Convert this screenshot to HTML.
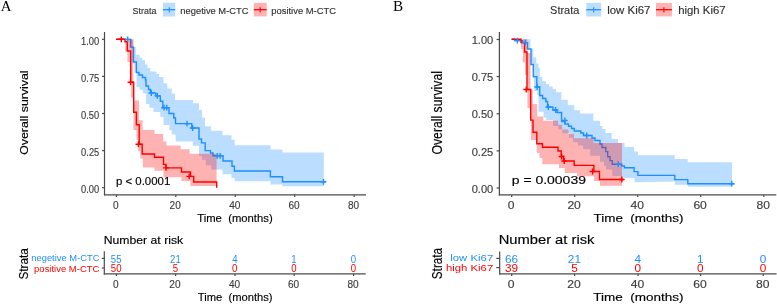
<!DOCTYPE html><html><head><meta charset="utf-8"><style>html,body{margin:0;padding:0;background:#fff;overflow:hidden}svg{display:block;filter:blur(0.35px)}</style></head><body>
<svg width="777" height="305" viewBox="0 0 777 305">
<rect width="777" height="305" fill="#fff"/>
<text transform="translate(0.85,10.70) scale(1.0134,1)" font-family='"Liberation Serif", serif' font-size="14.70" fill="#000" stroke="#000" stroke-width="0" style="white-space:pre">A</text>
<text transform="translate(132.60,13.50) scale(0.9461,1)" font-family='"Liberation Sans", sans-serif' font-size="9.46" fill="#333" stroke="#333" stroke-width="0.15" style="white-space:pre">Strata</text>
<rect x="163" y="2.8" width="12.2" height="13.7" fill="#BBDEFF"/>
<line x1="163" y1="9.7" x2="175.2" y2="9.7" stroke="#1E90FF" stroke-width="1.3"/>
<line x1="169.3" y1="7.2" x2="169.3" y2="12.6" stroke="#1E90FF" stroke-width="1.1"/>
<text transform="translate(180.37,13.50) scale(0.9841,1)" font-family='"Liberation Sans", sans-serif' font-size="9.52" fill="#333" stroke="#333" stroke-width="0.15" style="white-space:pre">negetive M-CTC</text>
<rect x="253.8" y="2.9" width="12.9" height="13.5" fill="#FFB3B3"/>
<line x1="253.8" y1="9.7" x2="266.7" y2="9.7" stroke="#FF0000" stroke-width="1.3"/>
<line x1="260.2" y1="7.2" x2="260.2" y2="12.6" stroke="#FF0000" stroke-width="1.1"/>
<text transform="translate(271.19,13.50) scale(0.9907,1)" font-family='"Liberation Sans", sans-serif' font-size="9.52" fill="#333" stroke="#333" stroke-width="0.15" style="white-space:pre">positive M-CTC</text>
<polyline points="116.4,39.4 130.7,39.4 130.7,47.1 133.5,47.1 133.5,62 136.4,62 136.4,72.5 139,72.5 139,75 142.5,75 142.5,77.5 145.5,77.5 145.5,80 146,80 146,86 148.5,86 148.5,89.5 150.5,89.5 150.5,93 155.8,93 155.8,95.9 160.3,95.9 160.3,101.3 162.8,101.3 162.8,107.7 169,107.7 169,113.5 173.8,113.5 173.8,118 175.5,118 175.5,123.6 191.8,123.6 191.8,128 199,128 199,139 201.5,139 201.5,142.9 205.2,142.9 205.2,150.6 210.5,150.6 210.5,153 213,153 213,155.8 223,155.8 223,161 232,161 232,166.2 234.4,166.2 234.4,171 270.4,171 270.4,176.7 282.5,176.7 282.5,181.8 326,181.8" fill="none" stroke="#1E90FF" stroke-width="1.4" stroke-linejoin="miter" stroke-linecap="butt"/>
<polyline points="116,39.3 125,39.3 125,41.8 127.3,41.8 127.3,51 130.7,51 130.7,82.3 133.7,82.3 133.7,112.3 136.4,112.3 136.4,124.8 139.2,124.8 139.2,144.2 142.2,144.2 142.2,154 154.5,154 154.5,157.2 163.5,157.2 163.5,164.4 166,164.4 166,167.9 181.5,167.9 181.5,172 190.5,172 190.5,176.4 193.7,176.4 193.7,182 216.7,182 216.7,187.7" fill="none" stroke="#FF0000" stroke-width="1.4" stroke-linejoin="miter" stroke-linecap="butt"/>
<polygon points="116.4,39.4 133.5,39.4 133.5,47.1 135.8,47.1 135.8,54.8 139.5,54.8 139.5,57.8 142.3,57.8 142.3,60.3 145,60.3 145,64.6 147.5,64.6 147.5,68 150.2,68 150.2,71.5 156.5,71.5 156.5,74 159,74 159,76.9 163.5,76.9 163.5,83.3 167.3,83.3 167.3,88.4 171.8,88.4 171.8,93.6 175,93.6 175,100 193,100 193,103.2 199,103.2 199,110 202,110 202,117.8 205,117.8 205,126.2 210.9,126.2 210.9,130.7 222.5,130.7 222.5,135.2 231.5,135.2 231.5,139.7 234.7,139.7 234.7,145.2 270.5,145.2 270.5,149.5 282.4,149.5 282.4,152.5 323.8,152.5 323.8,186.2 323.8,186.2 282.4,186.2 282.4,184.5 270.5,184.5 270.5,181.2 234.7,181.2 234.7,178 231.5,178 231.5,174.2 222.5,174.2 222.5,169.4 211.3,169.4 211.3,165.3 205.8,165.3 205.8,159.8 202.1,159.8 202.1,156.1 199,156.1 199,145.8 192.8,145.8 192.8,141.5 175.7,141.5 175.7,134.5 171.8,134.5 171.8,130 169.3,130 169.3,125 163.5,125 163.5,117 160.3,117 160.3,112 153.5,112 153.5,107.7 149.3,107.7 149.3,103.9 146.1,103.9 146.1,93.6 142.9,93.6 142.9,89.7 139.7,89.7 139.7,87.2 136.5,87.2 136.5,72.5 134.5,72.5 134.5,62 131.5,62 131.5,47.5 129.5,47.5 129.5,39.4 116.4,39.4" fill="#1E90FF" fill-opacity="0.3" stroke="none"/>
<polygon points="116,39.3 133.3,39.3 133.3,100.5 139,100.5 139,120.2 142.6,120.2 142.6,130 154.5,130 154.5,133.9 163.2,133.9 163.2,141.6 166.4,141.6 166.4,145.6 180.6,145.6 180.6,149.3 189.6,149.3 189.6,153.7 216.6,153.7 216.6,186 216.6,186 190.5,186 190.5,181.1 181.5,181.1 181.5,177.2 163.5,177.2 163.5,170.8 154.5,170.8 154.5,167.5 142.9,167.5 142.9,158.5 140.3,158.5 140.3,151 138,151 138,140 136.5,140 136.5,130 133.5,130 133.5,97.8 131.1,97.8 131.1,80 129.8,80 129.8,62 127.4,62 127.4,51.3 125.2,51.3 125.2,39.3 116,39.3" fill="#FF0000" fill-opacity="0.3" stroke="none"/>
<path d="M124.8,39.4h5.8M127.7,36.5v5.8M148.4,93.0h5.8M151.3,90.1v5.8M154.4,95.9h5.8M157.3,93.0v5.8M161.2,107.7h5.8M164.1,104.8v5.8M163.8,107.7h5.8M166.7,104.8v5.8M184.1,123.6h5.8M187.0,120.7v5.8M189.7,128.0h5.8M192.6,125.1v5.8M214.3,155.8h5.8M217.2,152.9v5.8M217.2,155.8h5.8M220.1,152.9v5.8M320.6,181.8h5.8M323.5,178.9v5.8" stroke="#1E90FF" stroke-width="1.4" fill="none"/>
<path d="M118.4,39.3h5.8M121.3,36.4v5.8M127.6,82.3h5.8M130.5,79.4v5.8M135.5,144.2h5.8M138.4,141.3v5.8M163.1,167.9h5.8M166.0,165.0v5.8M186.3,176.4h5.8M189.2,173.5v5.8" stroke="#FF0000" stroke-width="1.4" fill="none"/>
<line x1="104.5" y1="32" x2="104.5" y2="195.3" stroke="#4a4a4a" stroke-width="1.2"/>
<line x1="103.95" y1="194.8" x2="366" y2="194.8" stroke="#4a4a4a" stroke-width="1.2"/>
<line x1="102" y1="39.3" x2="104.5" y2="39.3" stroke="#4a4a4a" stroke-width="1.2"/>
<line x1="102" y1="76.4" x2="104.5" y2="76.4" stroke="#4a4a4a" stroke-width="1.2"/>
<line x1="102" y1="113.5" x2="104.5" y2="113.5" stroke="#4a4a4a" stroke-width="1.2"/>
<line x1="102" y1="150.6" x2="104.5" y2="150.6" stroke="#4a4a4a" stroke-width="1.2"/>
<line x1="102" y1="187.7" x2="104.5" y2="187.7" stroke="#4a4a4a" stroke-width="1.2"/>
<line x1="116.4" y1="194.8" x2="116.4" y2="197.0" stroke="#4a4a4a" stroke-width="1.2"/>
<line x1="175.8" y1="194.8" x2="175.8" y2="197.0" stroke="#4a4a4a" stroke-width="1.2"/>
<line x1="235.3" y1="194.8" x2="235.3" y2="197.0" stroke="#4a4a4a" stroke-width="1.2"/>
<line x1="294.7" y1="194.8" x2="294.7" y2="197.0" stroke="#4a4a4a" stroke-width="1.2"/>
<line x1="354.1" y1="194.8" x2="354.1" y2="197.0" stroke="#4a4a4a" stroke-width="1.2"/>
<text transform="translate(81.10,44.50) scale(0.8564,1)" font-family='"Liberation Sans", sans-serif' font-size="10.90" fill="#3C3C3C" stroke="#3C3C3C" stroke-width="0.15" style="white-space:pre">1.00</text>
<text transform="translate(81.12,81.60) scale(0.8564,1)" font-family='"Liberation Sans", sans-serif' font-size="10.90" fill="#3C3C3C" stroke="#3C3C3C" stroke-width="0.15" style="white-space:pre">0.75</text>
<text transform="translate(81.10,118.70) scale(0.8564,1)" font-family='"Liberation Sans", sans-serif' font-size="10.90" fill="#3C3C3C" stroke="#3C3C3C" stroke-width="0.15" style="white-space:pre">0.50</text>
<text transform="translate(81.12,155.80) scale(0.8564,1)" font-family='"Liberation Sans", sans-serif' font-size="10.90" fill="#3C3C3C" stroke="#3C3C3C" stroke-width="0.15" style="white-space:pre">0.25</text>
<text transform="translate(81.10,192.90) scale(0.8564,1)" font-family='"Liberation Sans", sans-serif' font-size="10.90" fill="#3C3C3C" stroke="#3C3C3C" stroke-width="0.15" style="white-space:pre">0.00</text>
<text transform="translate(112.99,208.90) scale(0.9125,1)" font-family='"Liberation Sans", sans-serif' font-size="11.04" fill="#3C3C3C" stroke="#3C3C3C" stroke-width="0.15" style="white-space:pre">0</text>
<text transform="translate(169.55,208.90) scale(0.9125,1)" font-family='"Liberation Sans", sans-serif' font-size="11.04" fill="#3C3C3C" stroke="#3C3C3C" stroke-width="0.15" style="white-space:pre">20</text>
<text transform="translate(229.18,208.90) scale(0.9125,1)" font-family='"Liberation Sans", sans-serif' font-size="11.04" fill="#3C3C3C" stroke="#3C3C3C" stroke-width="0.15" style="white-space:pre">40</text>
<text transform="translate(288.45,208.90) scale(0.9125,1)" font-family='"Liberation Sans", sans-serif' font-size="11.04" fill="#3C3C3C" stroke="#3C3C3C" stroke-width="0.15" style="white-space:pre">60</text>
<text transform="translate(347.88,208.90) scale(0.9125,1)" font-family='"Liberation Sans", sans-serif' font-size="11.04" fill="#3C3C3C" stroke="#3C3C3C" stroke-width="0.15" style="white-space:pre">80</text>
<text transform="translate(28.00,154.79) rotate(-90) scale(1.1055,1)" font-family='"Liberation Sans", sans-serif' font-size="11.17" fill="#000" stroke="#000" stroke-width="0.15" style="white-space:pre">Overall survival</text>
<text transform="translate(197.25,222.30) scale(0.9624,1)" font-family='"Liberation Sans", sans-serif' font-size="11.72" fill="#000" stroke="#000" stroke-width="0.15" style="white-space:pre">Time  (months)</text>
<text transform="translate(115.96,184.50) scale(0.9978,1)" font-family='"Liberation Sans", sans-serif' font-size="11.47" fill="#000" stroke="#000" stroke-width="0.15" style="white-space:pre">p &lt; 0.0001</text>
<text transform="translate(103.69,244.20) scale(1.0553,1)" font-family='"Liberation Sans", sans-serif' font-size="11.59" fill="#000" stroke="#000" stroke-width="0.15" style="white-space:pre">Number at risk</text>
<text transform="translate(27.60,279.53) rotate(-90) scale(0.9659,1)" font-family='"Liberation Sans", sans-serif' font-size="12.19" fill="#000" stroke="#000" stroke-width="0.15" style="white-space:pre">Strata</text>
<text transform="translate(31.27,261.30) scale(1.0135,1)" font-family='"Liberation Sans", sans-serif' font-size="9.24" fill="#1E90FF" stroke="#1E90FF" stroke-width="0" style="white-space:pre">negetive M-CTC</text>
<text transform="translate(34.08,271.60) scale(1.0267,1)" font-family='"Liberation Sans", sans-serif' font-size="9.24" fill="#FF0000" stroke="#FF0000" stroke-width="0" style="white-space:pre">positive M-CTC</text>
<line x1="104.3" y1="251.3" x2="104.3" y2="274.4" stroke="#4a4a4a" stroke-width="1.2"/>
<line x1="103.75" y1="273.9" x2="365.7" y2="273.9" stroke="#4a4a4a" stroke-width="1.2"/>
<line x1="101.8" y1="258.4" x2="104.3" y2="258.4" stroke="#4a4a4a" stroke-width="1.2"/>
<line x1="101.8" y1="268.0" x2="104.3" y2="268.0" stroke="#4a4a4a" stroke-width="1.2"/>
<line x1="116.4" y1="273.9" x2="116.4" y2="276.0" stroke="#4a4a4a" stroke-width="1.2"/>
<line x1="175.6" y1="273.9" x2="175.6" y2="276.0" stroke="#4a4a4a" stroke-width="1.2"/>
<line x1="235.0" y1="273.9" x2="235.0" y2="276.0" stroke="#4a4a4a" stroke-width="1.2"/>
<line x1="294.2" y1="273.9" x2="294.2" y2="276.0" stroke="#4a4a4a" stroke-width="1.2"/>
<line x1="353.6" y1="273.9" x2="353.6" y2="276.0" stroke="#4a4a4a" stroke-width="1.2"/>
<text transform="translate(110.87,262.60) scale(0.9440,1)" font-family='"Liberation Sans", sans-serif' font-size="10.18" fill="#1E90FF" stroke="#1E90FF" stroke-width="0" style="white-space:pre">55</text>
<text transform="translate(170.05,262.60) scale(0.9440,1)" font-family='"Liberation Sans", sans-serif' font-size="10.18" fill="#1E90FF" stroke="#1E90FF" stroke-width="0" style="white-space:pre">21</text>
<text transform="translate(232.16,262.60) scale(0.9440,1)" font-family='"Liberation Sans", sans-serif' font-size="10.18" fill="#1E90FF" stroke="#1E90FF" stroke-width="0" style="white-space:pre">4</text>
<text transform="translate(291.20,262.60) scale(0.9440,1)" font-family='"Liberation Sans", sans-serif' font-size="10.18" fill="#1E90FF" stroke="#1E90FF" stroke-width="0" style="white-space:pre">1</text>
<text transform="translate(350.72,262.60) scale(0.9440,1)" font-family='"Liberation Sans", sans-serif' font-size="10.18" fill="#1E90FF" stroke="#1E90FF" stroke-width="0" style="white-space:pre">0</text>
<text transform="translate(110.85,272.10) scale(0.9440,1)" font-family='"Liberation Sans", sans-serif' font-size="10.18" fill="#FF0000" stroke="#FF0000" stroke-width="0" style="white-space:pre">50</text>
<text transform="translate(172.73,272.10) scale(0.9440,1)" font-family='"Liberation Sans", sans-serif' font-size="10.18" fill="#FF0000" stroke="#FF0000" stroke-width="0" style="white-space:pre">5</text>
<text transform="translate(232.12,272.10) scale(0.9440,1)" font-family='"Liberation Sans", sans-serif' font-size="10.18" fill="#FF0000" stroke="#FF0000" stroke-width="0" style="white-space:pre">0</text>
<text transform="translate(291.32,272.10) scale(0.9440,1)" font-family='"Liberation Sans", sans-serif' font-size="10.18" fill="#FF0000" stroke="#FF0000" stroke-width="0" style="white-space:pre">0</text>
<text transform="translate(350.72,272.10) scale(0.9440,1)" font-family='"Liberation Sans", sans-serif' font-size="10.18" fill="#FF0000" stroke="#FF0000" stroke-width="0" style="white-space:pre">0</text>
<text transform="translate(112.99,287.70) scale(0.9125,1)" font-family='"Liberation Sans", sans-serif' font-size="11.04" fill="#3C3C3C" stroke="#3C3C3C" stroke-width="0.15" style="white-space:pre">0</text>
<text transform="translate(169.35,287.70) scale(0.9125,1)" font-family='"Liberation Sans", sans-serif' font-size="11.04" fill="#3C3C3C" stroke="#3C3C3C" stroke-width="0.15" style="white-space:pre">20</text>
<text transform="translate(228.88,287.70) scale(0.9125,1)" font-family='"Liberation Sans", sans-serif' font-size="11.04" fill="#3C3C3C" stroke="#3C3C3C" stroke-width="0.15" style="white-space:pre">40</text>
<text transform="translate(287.95,287.70) scale(0.9125,1)" font-family='"Liberation Sans", sans-serif' font-size="11.04" fill="#3C3C3C" stroke="#3C3C3C" stroke-width="0.15" style="white-space:pre">60</text>
<text transform="translate(347.38,287.70) scale(0.9125,1)" font-family='"Liberation Sans", sans-serif' font-size="11.04" fill="#3C3C3C" stroke="#3C3C3C" stroke-width="0.15" style="white-space:pre">80</text>
<text transform="translate(197.75,301.20) scale(1.0032,1)" font-family='"Liberation Sans", sans-serif' font-size="11.17" fill="#000" stroke="#000" stroke-width="0.15" style="white-space:pre">Time  (months)</text>
<text transform="translate(392.98,10.90) scale(1.0629,1)" font-family='"Liberation Serif", serif' font-size="14.35" fill="#000" stroke="#000" stroke-width="0" style="white-space:pre">B</text>
<text transform="translate(550.11,13.50) scale(1.0741,1)" font-family='"Liberation Sans", sans-serif' font-size="10.18" fill="#333" stroke="#333" stroke-width="0.15" style="white-space:pre">Strata</text>
<rect x="586.3" y="2.8" width="14.8" height="13.7" fill="#BBDEFF"/>
<line x1="586.3" y1="9.7" x2="601.1" y2="9.7" stroke="#1E90FF" stroke-width="1.3"/>
<line x1="593.7" y1="7.2" x2="593.7" y2="12.6" stroke="#1E90FF" stroke-width="1.1"/>
<text transform="translate(607.23,13.80) scale(1.0913,1)" font-family='"Liberation Sans", sans-serif' font-size="10.48" fill="#333" stroke="#333" stroke-width="0.15" style="white-space:pre">low Ki67</text>
<rect x="656" y="2.9" width="15.9" height="13.5" fill="#FFB3B3"/>
<line x1="656" y1="9.7" x2="671.9" y2="9.7" stroke="#FF0000" stroke-width="1.3"/>
<line x1="663.9" y1="7.2" x2="663.9" y2="12.6" stroke="#FF0000" stroke-width="1.1"/>
<text transform="translate(678.20,13.80) scale(1.0859,1)" font-family='"Liberation Sans", sans-serif' font-size="10.48" fill="#333" stroke="#333" stroke-width="0.15" style="white-space:pre">high Ki67</text>
<polyline points="511.7,39.3 514.5,39.3 514.5,40.6 522.4,40.6 522.4,42.6 527.5,42.6 527.5,49 531,49 531,64.5 533.3,64.5 533.3,76.7 536.8,76.7 536.8,87 539.7,87 539.7,95.5 542.6,95.5 542.6,98.5 545.8,98.5 545.8,101.5 547.5,101.5 547.5,107 552.9,107 552.9,110 557,110 557,112.5 561.6,112.5 561.6,121.5 565,121.5 565,124 568.5,124 568.5,126.3 571.5,126.3 571.5,128.5 574.3,128.5 574.3,131 580.8,131 580.8,133 583.5,133 583.5,135.5 592,135.5 592,138 595,138 595,140.5 600,140.5 600,144 602,144 602,147.5 605.8,147.5 605.8,151.6 607.7,151.6 607.7,156.7 610,156.7 610,160.6 612.2,160.6 612.2,164.2 621.8,164.2 621.8,166 624.4,166 624.4,167.7 634.1,167.7 634.1,171.6 637.9,171.6 637.9,175.4 674.8,175.4 674.8,179.6 687.8,179.6 687.8,183.7 734,183.7" fill="none" stroke="#1E90FF" stroke-width="1.4" stroke-linejoin="miter" stroke-linecap="butt"/>
<polyline points="511.5,39.3 521,39.3 521,42.6 524.6,42.6 524.6,52 527,52 527,89.5 530.7,89.5 530.7,120.1 533,120.1 533,132.2 536.8,132.2 536.8,143.8 542.5,143.8 542.5,147.3 558,147.3 558,151 561.2,151 561.2,156.5 563.5,156.5 563.5,161 574.2,161 574.2,165.4 593.9,165.4 593.9,171.5 599.5,171.5 599.5,179.5 624,179.5" fill="none" stroke="#FF0000" stroke-width="1.4" stroke-linejoin="miter" stroke-linecap="butt"/>
<polygon points="511.7,39.3 530.4,39.3 530.4,48.8 533.3,48.8 533.3,57.6 536.3,57.6 536.3,63.5 538.5,63.5 538.5,67.7 539.7,67.7 539.7,76.7 542.3,76.7 542.3,81.2 546,81.2 546,84 549.2,84 549.2,86.4 552.7,86.4 552.7,89 556,89 556,92.2 561.4,92.2 561.4,99.7 567.8,99.7 567.8,105.2 574.3,105.2 574.3,110.3 580,110.3 580,113.6 593.3,113.6 593.3,120.7 600.2,120.7 600.2,126 602.3,126 602.3,129.1 605.4,129.1 605.4,133.1 611.7,133.1 611.7,139 618,139 618,143 624.5,143 624.5,147.1 634.1,147.1 634.1,151.6 638,151.6 638,155.3 674.7,155.3 674.7,159.1 687.7,159.1 687.7,162.3 732,162.3 732,186.7 732,186.7 687.8,186.7 687.8,184.7 674.9,184.7 674.9,181.5 634.6,182.3 634.6,178 621.8,178 621.8,176 612.2,176 612.2,169.6 606,169.6 606,166 604,166 604,161.7 600,161.7 600,155.7 590.2,155.7 590.2,149.3 583.2,149.3 583.2,145.4 578,145.4 578,142.2 572.9,142.2 572.9,137.7 569,137.7 569,133.3 562.4,133.3 562.4,129.5 558.2,129.5 558.2,126 553.1,126 553.1,120.1 546.2,120.1 546.2,117.5 543.6,117.5 543.6,111.7 538.5,111.7 538.5,95 537.2,95 537.2,91 534,91 534,76.7 533.3,76.7 533.3,64.5 531,64.5 531,49 527.5,49 527.5,42.6 522.4,42.6 522.4,39.3 511.7,39.3" fill="#1E90FF" fill-opacity="0.3" stroke="none"/>
<polygon points="511.5,39.3 527.3,39.3 527.3,52.9 530.5,52.9 530.5,89.5 532.7,89.5 532.7,104 537.2,104 537.2,116.6 543.3,116.6 543.3,120.7 558.2,120.7 558.2,124.7 562.2,124.7 562.2,129.4 568.5,129.4 568.5,134.1 574,134.1 574,138.3 593.6,138.3 593.6,143 622,143 622,185.8 622,185.8 600,185.8 600,181 594,181 594,176.2 577,176.2 577,173 564.8,173 564.8,168 559,168 559,164.2 542.3,164.2 542.3,158 539.5,158 539.5,153 536.7,153 536.7,140 530.9,140 530.9,108 527.5,108 527.3,75 525,75 525,62.3 522.8,62.3 522.8,49.1 521,49.1 521,39.3 511.5,39.3" fill="#FF0000" fill-opacity="0.3" stroke="none"/>
<path d="M514.5,40.6h5.8M517.4,37.7v5.8M522.4,42.6h5.8M525.3,39.7v5.8M534.3,87.0h5.8M537.2,84.1v5.8M545.4,107.0h5.8M548.3,104.1v5.8M552.7,110.0h5.8M555.6,107.1v5.8M561.9,120.5h5.8M564.8,117.6v5.8M583.8,135.5h5.8M586.7,132.6v5.8M615.4,164.2h5.8M618.3,161.3v5.8M728.9,183.7h5.8M731.8,180.8v5.8" stroke="#1E90FF" stroke-width="1.4" fill="none"/>
<path d="M523.3,89.5h5.8M526.2,86.6v5.8M558.7,156.5h5.8M561.6,153.6v5.8M561.3,161.0h5.8M564.2,158.1v5.8M589.7,171.5h5.8M592.6,168.6v5.8M618.9,179.5h5.8M621.8,176.6v5.8" stroke="#FF0000" stroke-width="1.4" fill="none"/>
<line x1="499.4" y1="32" x2="499.4" y2="195.4" stroke="#4a4a4a" stroke-width="1.2"/>
<line x1="498.85" y1="194.9" x2="776.3" y2="194.9" stroke="#4a4a4a" stroke-width="1.2"/>
<line x1="496.6" y1="39.5" x2="499.4" y2="39.5" stroke="#4a4a4a" stroke-width="1.2"/>
<line x1="496.6" y1="76.6" x2="499.4" y2="76.6" stroke="#4a4a4a" stroke-width="1.2"/>
<line x1="496.6" y1="113.75" x2="499.4" y2="113.75" stroke="#4a4a4a" stroke-width="1.2"/>
<line x1="496.6" y1="150.9" x2="499.4" y2="150.9" stroke="#4a4a4a" stroke-width="1.2"/>
<line x1="496.6" y1="188" x2="499.4" y2="188" stroke="#4a4a4a" stroke-width="1.2"/>
<line x1="511.7" y1="194.9" x2="511.7" y2="197.1" stroke="#4a4a4a" stroke-width="1.2"/>
<line x1="574.7" y1="194.9" x2="574.7" y2="197.1" stroke="#4a4a4a" stroke-width="1.2"/>
<line x1="637.7" y1="194.9" x2="637.7" y2="197.1" stroke="#4a4a4a" stroke-width="1.2"/>
<line x1="700.7" y1="194.9" x2="700.7" y2="197.1" stroke="#4a4a4a" stroke-width="1.2"/>
<line x1="763.8" y1="194.9" x2="763.8" y2="197.1" stroke="#4a4a4a" stroke-width="1.2"/>
<text transform="translate(471.67,44.20) scale(1.0302,1)" font-family='"Liberation Sans", sans-serif' font-size="10.75" fill="#3C3C3C" stroke="#3C3C3C" stroke-width="0.15" style="white-space:pre">1.00</text>
<text transform="translate(471.70,81.30) scale(1.0302,1)" font-family='"Liberation Sans", sans-serif' font-size="10.75" fill="#3C3C3C" stroke="#3C3C3C" stroke-width="0.15" style="white-space:pre">0.75</text>
<text transform="translate(471.67,118.45) scale(1.0302,1)" font-family='"Liberation Sans", sans-serif' font-size="10.75" fill="#3C3C3C" stroke="#3C3C3C" stroke-width="0.15" style="white-space:pre">0.50</text>
<text transform="translate(471.70,155.60) scale(1.0302,1)" font-family='"Liberation Sans", sans-serif' font-size="10.75" fill="#3C3C3C" stroke="#3C3C3C" stroke-width="0.15" style="white-space:pre">0.25</text>
<text transform="translate(471.67,192.70) scale(1.0302,1)" font-family='"Liberation Sans", sans-serif' font-size="10.75" fill="#3C3C3C" stroke="#3C3C3C" stroke-width="0.15" style="white-space:pre">0.00</text>
<text transform="translate(507.82,208.90) scale(1.1278,1)" font-family='"Liberation Sans", sans-serif' font-size="10.75" fill="#3C3C3C" stroke="#3C3C3C" stroke-width="0.15" style="white-space:pre">0</text>
<text transform="translate(567.39,208.90) scale(1.1278,1)" font-family='"Liberation Sans", sans-serif' font-size="10.75" fill="#3C3C3C" stroke="#3C3C3C" stroke-width="0.15" style="white-space:pre">20</text>
<text transform="translate(630.56,208.90) scale(1.1278,1)" font-family='"Liberation Sans", sans-serif' font-size="10.75" fill="#3C3C3C" stroke="#3C3C3C" stroke-width="0.15" style="white-space:pre">40</text>
<text transform="translate(693.39,208.90) scale(1.1278,1)" font-family='"Liberation Sans", sans-serif' font-size="10.75" fill="#3C3C3C" stroke="#3C3C3C" stroke-width="0.15" style="white-space:pre">60</text>
<text transform="translate(756.54,208.90) scale(1.1278,1)" font-family='"Liberation Sans", sans-serif' font-size="10.75" fill="#3C3C3C" stroke="#3C3C3C" stroke-width="0.15" style="white-space:pre">80</text>
<text transform="translate(442.00,154.48) rotate(-90) scale(0.8436,1)" font-family='"Liberation Sans", sans-serif' font-size="14.48" fill="#000" stroke="#000" stroke-width="0.15" style="white-space:pre">Overall survival</text>
<text transform="translate(593.50,222.30) scale(1.1485,1)" font-family='"Liberation Sans", sans-serif' font-size="11.72" fill="#000" stroke="#000" stroke-width="0.15" style="white-space:pre">Time  (months)</text>
<text transform="translate(511.79,184.40) scale(1.2189,1)" font-family='"Liberation Sans", sans-serif' font-size="11.47" fill="#000" stroke="#000" stroke-width="0.15" style="white-space:pre">p = 0.00039</text>
<text transform="translate(498.68,244.30) scale(1.2003,1)" font-family='"Liberation Sans", sans-serif' font-size="12.28" fill="#000" stroke="#000" stroke-width="0.15" style="white-space:pre">Number at risk</text>
<text transform="translate(442.20,279.23) rotate(-90) scale(0.7971,1)" font-family='"Liberation Sans", sans-serif' font-size="14.77" fill="#000" stroke="#000" stroke-width="0.15" style="white-space:pre">Strata</text>
<text transform="translate(450.23,261.30) scale(1.1626,1)" font-family='"Liberation Sans", sans-serif' font-size="9.79" fill="#1E90FF" stroke="#1E90FF" stroke-width="0" style="white-space:pre">low Ki67</text>
<text transform="translate(445.90,271.20) scale(1.1598,1)" font-family='"Liberation Sans", sans-serif' font-size="9.79" fill="#FF0000" stroke="#FF0000" stroke-width="0" style="white-space:pre">high Ki67</text>
<line x1="499.7" y1="251.4" x2="499.7" y2="274.4" stroke="#4a4a4a" stroke-width="1.2"/>
<line x1="499.15" y1="273.9" x2="776.6" y2="273.9" stroke="#4a4a4a" stroke-width="1.2"/>
<line x1="496.3" y1="258.4" x2="499.7" y2="258.4" stroke="#4a4a4a" stroke-width="1.2"/>
<line x1="496.3" y1="267.6" x2="499.7" y2="267.6" stroke="#4a4a4a" stroke-width="1.2"/>
<line x1="511.7" y1="273.9" x2="511.7" y2="276.1" stroke="#4a4a4a" stroke-width="1.2"/>
<line x1="574.6" y1="273.9" x2="574.6" y2="276.1" stroke="#4a4a4a" stroke-width="1.2"/>
<line x1="638.0" y1="273.9" x2="638.0" y2="276.1" stroke="#4a4a4a" stroke-width="1.2"/>
<line x1="700.6" y1="273.9" x2="700.6" y2="276.1" stroke="#4a4a4a" stroke-width="1.2"/>
<line x1="763.2" y1="273.9" x2="763.2" y2="276.1" stroke="#4a4a4a" stroke-width="1.2"/>
<text transform="translate(504.91,262.60) scale(1.1586,1)" font-family='"Liberation Sans", sans-serif' font-size="10.18" fill="#1E90FF" stroke="#1E90FF" stroke-width="0" style="white-space:pre">66</text>
<text transform="translate(567.84,262.60) scale(1.1586,1)" font-family='"Liberation Sans", sans-serif' font-size="10.18" fill="#1E90FF" stroke="#1E90FF" stroke-width="0" style="white-space:pre">21</text>
<text transform="translate(634.56,262.60) scale(1.1586,1)" font-family='"Liberation Sans", sans-serif' font-size="10.18" fill="#1E90FF" stroke="#1E90FF" stroke-width="0" style="white-space:pre">4</text>
<text transform="translate(696.97,262.60) scale(1.1586,1)" font-family='"Liberation Sans", sans-serif' font-size="10.18" fill="#1E90FF" stroke="#1E90FF" stroke-width="0" style="white-space:pre">1</text>
<text transform="translate(759.71,262.60) scale(1.1586,1)" font-family='"Liberation Sans", sans-serif' font-size="10.18" fill="#1E90FF" stroke="#1E90FF" stroke-width="0" style="white-space:pre">0</text>
<text transform="translate(505.00,272.00) scale(1.1586,1)" font-family='"Liberation Sans", sans-serif' font-size="10.18" fill="#FF0000" stroke="#FF0000" stroke-width="0" style="white-space:pre">39</text>
<text transform="translate(571.13,272.00) scale(1.1586,1)" font-family='"Liberation Sans", sans-serif' font-size="10.18" fill="#FF0000" stroke="#FF0000" stroke-width="0" style="white-space:pre">5</text>
<text transform="translate(634.51,272.00) scale(1.1586,1)" font-family='"Liberation Sans", sans-serif' font-size="10.18" fill="#FF0000" stroke="#FF0000" stroke-width="0" style="white-space:pre">0</text>
<text transform="translate(697.11,272.00) scale(1.1586,1)" font-family='"Liberation Sans", sans-serif' font-size="10.18" fill="#FF0000" stroke="#FF0000" stroke-width="0" style="white-space:pre">0</text>
<text transform="translate(759.71,272.00) scale(1.1586,1)" font-family='"Liberation Sans", sans-serif' font-size="10.18" fill="#FF0000" stroke="#FF0000" stroke-width="0" style="white-space:pre">0</text>
<text transform="translate(507.82,287.70) scale(1.1278,1)" font-family='"Liberation Sans", sans-serif' font-size="10.75" fill="#3C3C3C" stroke="#3C3C3C" stroke-width="0.15" style="white-space:pre">0</text>
<text transform="translate(567.29,287.70) scale(1.1278,1)" font-family='"Liberation Sans", sans-serif' font-size="10.75" fill="#3C3C3C" stroke="#3C3C3C" stroke-width="0.15" style="white-space:pre">20</text>
<text transform="translate(630.86,287.70) scale(1.1278,1)" font-family='"Liberation Sans", sans-serif' font-size="10.75" fill="#3C3C3C" stroke="#3C3C3C" stroke-width="0.15" style="white-space:pre">40</text>
<text transform="translate(693.29,287.70) scale(1.1278,1)" font-family='"Liberation Sans", sans-serif' font-size="10.75" fill="#3C3C3C" stroke="#3C3C3C" stroke-width="0.15" style="white-space:pre">60</text>
<text transform="translate(755.94,287.70) scale(1.1278,1)" font-family='"Liberation Sans", sans-serif' font-size="10.75" fill="#3C3C3C" stroke="#3C3C3C" stroke-width="0.15" style="white-space:pre">80</text>
<text transform="translate(593.20,300.90) scale(1.1801,1)" font-family='"Liberation Sans", sans-serif' font-size="11.45" fill="#000" stroke="#000" stroke-width="0.15" style="white-space:pre">Time  (months)</text>
</svg></body></html>
